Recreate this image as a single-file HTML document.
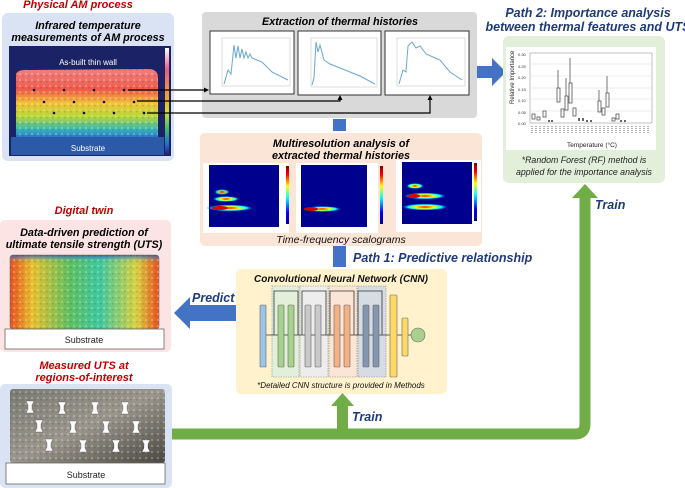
<!DOCTYPE html>
<html><head><meta charset="utf-8"><style>
body{margin:0;background:#fff}
svg{display:block}
text{font-family:"Liberation Sans",Arial,sans-serif}
.t{font-weight:bold;font-style:italic;font-size:10.8px;fill:#000}
.r{font-weight:bold;font-style:italic;font-size:11px;fill:#c00000}
.b{font-weight:bold;font-style:italic;font-size:12.5px;fill:#1f3a7a}
.c{font-style:italic;font-size:8.8px;fill:#222}
</style></head><body>
<svg width="685" height="488" viewBox="0 0 685 488" xmlns="http://www.w3.org/2000/svg">
<defs>
<linearGradient id="wall" x1="0" y1="0" x2="0" y2="1">
<stop offset="0" stop-color="#f08080"/><stop offset="0.3" stop-color="#f05a4a"/><stop offset="0.5" stop-color="#f2c23a"/><stop offset="0.7" stop-color="#b8d838"/><stop offset="0.88" stop-color="#3cb8b0"/><stop offset="1" stop-color="#2a7ad0"/></linearGradient>
<linearGradient id="cbar" x1="0" y1="0" x2="0" y2="1">
<stop offset="0" stop-color="#fff"/><stop offset="0.2" stop-color="#f05a80"/><stop offset="0.45" stop-color="#f8a020"/><stop offset="0.6" stop-color="#d8e020"/><stop offset="0.75" stop-color="#40c060"/><stop offset="0.9" stop-color="#2070d0"/><stop offset="1" stop-color="#202070"/></linearGradient>
<linearGradient id="jet" x1="0" y1="0" x2="0" y2="1">
<stop offset="0" stop-color="#800000"/><stop offset="0.15" stop-color="#ff0000"/><stop offset="0.35" stop-color="#ffff00"/><stop offset="0.55" stop-color="#00ffff"/><stop offset="0.8" stop-color="#0000ff"/><stop offset="1" stop-color="#00008f"/></linearGradient>
<linearGradient id="uts" x1="0" y1="0" x2="1" y2="0">
<stop offset="0" stop-color="#e85020"/><stop offset="0.15" stop-color="#e8c030"/><stop offset="0.4" stop-color="#60c060"/><stop offset="0.6" stop-color="#40c8a0"/><stop offset="0.85" stop-color="#d8d040"/><stop offset="1" stop-color="#e85020"/></linearGradient>
<linearGradient id="utsv" x1="0" y1="0" x2="0" y2="1">
<stop offset="0" stop-color="#3050c0" stop-opacity="0.8"/><stop offset="0.1" stop-color="#60c0a0" stop-opacity="0"/><stop offset="1" stop-color="#60c0a0" stop-opacity="0"/></linearGradient>
<linearGradient id="photo" x1="0" y1="0" x2="1" y2="1">
<stop offset="0" stop-color="#7a7a72"/><stop offset="0.5" stop-color="#9a968c"/><stop offset="1" stop-color="#4a4842"/></linearGradient>
<radialGradient id="hot" cx="0.5" cy="0.5" r="0.5">
<stop offset="0" stop-color="#ff0000"/><stop offset="0.4" stop-color="#ffff00"/><stop offset="0.7" stop-color="#00ffff"/><stop offset="1" stop-color="#0000b0" stop-opacity="0"/></radialGradient>
<pattern id="noise" width="6" height="6" patternUnits="userSpaceOnUse"><rect x="1" y="1" width="2" height="2" fill="#fff" opacity="0.25"/><rect x="4" y="3" width="1.5" height="1.5" fill="#000" opacity="0.15"/></pattern>
</defs>

<!-- Physical AM -->
<text class="r" x="78" y="8" text-anchor="middle">Physical AM process</text>
<rect x="2" y="13" width="172" height="148" rx="6" fill="#dae3f3"/>
<text class="t" x="88" y="29" text-anchor="middle">Infrared temperature</text>
<text class="t" x="88" y="41" text-anchor="middle">measurements of AM process</text>
<rect x="9" y="46" width="162" height="110" fill="#1c2266"/>
<path d="M16 74 Q18 69 30 70 L150 69 Q158 70 158 78 L158 137 L16 137 Z" fill="url(#wall)"/>
<path d="M16 74 Q18 69 30 70 L150 69 Q158 70 158 78 L158 137 L16 137 Z" fill="url(#noise)"/>
<rect x="11" y="137" width="153" height="18" fill="#2c5aa8"/>
<rect x="165" y="48" width="4" height="107" fill="url(#cbar)"/>
<text x="88" y="65" text-anchor="middle" font-size="8" fill="#fff">As-built thin wall</text>
<text x="88" y="151" text-anchor="middle" font-size="8" fill="#fff">Substrate</text>
<g fill="#111"><circle cx="34" cy="90" r="1.3"/><circle cx="64" cy="90" r="1.3"/><circle cx="94" cy="90" r="1.3"/><circle cx="124" cy="90" r="1.3"/>
<circle cx="44" cy="102" r="1.3"/><circle cx="74" cy="102" r="1.3"/><circle cx="104" cy="102" r="1.3"/><circle cx="134" cy="102" r="1.3"/>
<circle cx="54" cy="113" r="1.3"/><circle cx="84" cy="113" r="1.3"/><circle cx="114" cy="113" r="1.3"/><circle cx="144" cy="113" r="1.3"/></g>

<!-- Extraction -->
<rect x="202" y="12" width="275" height="106" rx="4" fill="#d9d9d9"/>
<text class="t" x="340" y="25" text-anchor="middle">Extraction of thermal histories</text>
<g stroke="#333" stroke-width="1" fill="#fff">
<rect x="210" y="31" width="84" height="63"/><rect x="298" y="31" width="83" height="64"/><rect x="385" y="31" width="84" height="64"/></g>
<g fill="none" stroke="#6aa6d0" stroke-width="1">
<rect x="222" y="38" width="68" height="48" stroke="#bbb" stroke-width="0.5"/>
<path d="M224 84 L228 70 L231 74 L234 45 L236 58 L238 46 L240 58 L242 49 L244 58 L246 52 L248 58 L250 54 L252 58 L262 62 L272 72 L288 80"/>
<rect x="311" y="38" width="66" height="49" stroke="#bbb" stroke-width="0.5"/>
<path d="M312 85 L314 78 L316 42 L318 52 L320 45 L324 60 L330 64 L345 70 L360 76 L375 84"/>
<rect x="397" y="38" width="68" height="48" stroke="#bbb" stroke-width="0.5"/>
<path d="M399 84 L403 70 L406 72 L408 46 L412 42 L416 48 L420 46 L426 54 L440 60 L450 72 L462 80"/></g>
<g stroke="#000" stroke-width="1.2" fill="none">
<path d="M128 90 H207"/><path d="M137 101 H340 V97"/><path d="M147 113 H430 V97"/></g>
<g fill="#000"><path d="M209 90 l-5 -2.5 v5z"/><path d="M340 95 l-2.5 5 h5z"/><path d="M430 95 l-2.5 5 h5z"/></g>

<path d="M477 66 H492 V58 L506 72 L492 86 V78 H477 Z" fill="#4472c4"/>
<text class="b" x="588" y="17" text-anchor="middle">Path 2: Importance analysis</text>
<text class="b" x="588" y="31" text-anchor="middle">between thermal features and UTS</text>
<rect x="503" y="36" width="162" height="147" rx="6" fill="#e2efda"/>
<rect x="506" y="47" width="150" height="103" fill="#fff"/>
<rect x="530" y="53" width="122" height="70" fill="#fff" stroke="#999" stroke-width="0.6"/>
<g stroke="#ddd" stroke-width="0.5"><path d="M530 64H652M530 76H652M530 88H652M530 99H652M530 111H652"/></g>
<g font-size="4" fill="#333"><text x="518" y="56">0.30</text><text x="518" y="68">0.25</text><text x="518" y="79">0.20</text><text x="518" y="91">0.15</text><text x="518" y="102">0.10</text><text x="518" y="114">0.05</text><text x="518" y="125">0.00</text></g>
<text x="514" y="104" font-size="6" fill="#222" transform="rotate(-90 514 104)">Relative Importance</text>
<text x="592" y="147" font-size="6.5" fill="#222" text-anchor="middle">Temperature (°C)</text>
<g stroke="#555" stroke-width="0.8" fill="none">
<rect x="532" y="114" width="3" height="5"/><rect x="537" y="117" width="3" height="3"/><rect x="543" y="111" width="3" height="6"/><rect x="557" y="88" width="3" height="14"/><rect x="561" y="109" width="3" height="8"/><rect x="565" y="96" width="3" height="14"/><rect x="569" y="83" width="3" height="20"/><rect x="573" y="108" width="3" height="8"/><rect x="598" y="101" width="3" height="11"/><rect x="602" y="108" width="3" height="7"/><rect x="606" y="93" width="3" height="14"/><rect x="612" y="118" width="3" height="3"/><rect x="616" y="114" width="3" height="5"/>
<path d="M558 70V88M570 58V83M566 78V96M599 90V101M607 76V93"/></g>
<g fill="#666"><rect x="548" y="120" width="2" height="2"/><rect x="551" y="120" width="2" height="2"/><rect x="578" y="118" width="2" height="3"/><rect x="582" y="118" width="2" height="3"/><rect x="586" y="120" width="2" height="2"/><rect x="590" y="120" width="2" height="2"/><rect x="620" y="120" width="2" height="2"/><rect x="624" y="120" width="2" height="2"/></g>
<path d="M532 126V134M536 126V134M540 126V134M544 126V134M548 126V134M552 126V134M556 126V134M560 126V134M564 126V134M568 126V134M572 126V134M576 126V134M580 126V134M584 126V134M588 126V134M592 126V134M596 126V134M600 126V134M604 126V134M608 126V134M612 126V134M616 126V134M620 126V134M624 126V134M628 126V134M632 126V134M636 126V134M640 126V134M644 126V134M648 126V134" stroke="#999" stroke-width="1.5" stroke-dasharray="1 1"/>
<text class="c" x="584" y="163" text-anchor="middle">*Random Forest (RF) method is</text>
<text class="c" x="584" y="175" text-anchor="middle">applied for the importance analysis</text>

<rect x="333" y="119" width="13" height="12" fill="#4472c4"/>
<rect x="333" y="246" width="13" height="21" fill="#4472c4"/>

<rect x="200" y="133" width="282" height="113" rx="5" fill="#fbe5d6"/>
<text class="t" x="341" y="147" text-anchor="middle">Multiresolution analysis of</text>
<text class="t" x="341" y="159" text-anchor="middle">extracted thermal histories</text>
<g fill="#fff"><rect x="203" y="163" width="86" height="70"/><rect x="296" y="163" width="82" height="70"/><rect x="396" y="160" width="85" height="72"/></g>
<g fill="#00008f"><rect x="209" y="165" width="70" height="62"/><rect x="301" y="165" width="66" height="62"/><rect x="402" y="162" width="70" height="62"/></g>
<g fill="url(#jet)"><rect x="286" y="166" width="3" height="58"/><rect x="380" y="166" width="3" height="58"/><rect x="474" y="163" width="3" height="58"/></g>
<g>
<ellipse cx="230" cy="208" rx="24" ry="3.5" fill="url(#hot)"/><ellipse cx="220" cy="208" rx="8" ry="2" fill="#e00000"/>
<ellipse cx="226" cy="199" rx="14" ry="3" fill="url(#hot)"/><ellipse cx="222" cy="192" rx="8" ry="3" fill="url(#hot)" opacity="0.8"/>
<ellipse cx="322" cy="209" rx="20" ry="3" fill="url(#hot)"/><ellipse cx="311" cy="209" rx="7" ry="2" fill="#d00000"/>
<ellipse cx="425" cy="207" rx="24" ry="3.5" fill="url(#hot)"/><ellipse cx="425" cy="196" rx="22" ry="3.5" fill="url(#hot)"/><ellipse cx="414" cy="196" rx="6" ry="2" fill="#e00000"/><ellipse cx="415" cy="186" rx="9" ry="3" fill="url(#hot)"/></g>
<text x="341" y="243" text-anchor="middle" font-style="italic" font-size="10.5" fill="#111">Time-frequency scalograms</text>

<text class="b" x="353" y="262">Path 1: Predictive relationship</text>

<rect x="236" y="269" width="211" height="125" rx="5" fill="#fff2cc"/>
<text x="341" y="282" text-anchor="middle" font-weight="bold" font-style="italic" font-size="10" fill="#111">Convolutional Neural Network (CNN)</text>
<g stroke="#888" stroke-width="0.6" stroke-dasharray="1.5 1">
<rect x="272" y="286" width="27" height="91" fill="#e2efda"/><rect x="300" y="286" width="28" height="91" fill="#ededed"/><rect x="329" y="286" width="28" height="91" fill="#fbe5d6"/><rect x="358" y="286" width="28" height="91" fill="#d6dce4"/></g>
<g stroke="#333" stroke-width="0.8" fill="none"><path d="M274 335V291H298V335M302 335V291H326V335M330 335V291H354V335M358 335V291H382V335"/><path d="M266 335H420"/></g>
<g stroke="#666" stroke-width="0.6">
<rect x="260" y="305" width="6" height="62" rx="1" fill="#9dc3e6"/>
<rect x="278" y="305" width="6" height="62" rx="1" fill="#a9d18e"/><rect x="288" y="305" width="6" height="62" rx="1" fill="#a9d18e"/>
<rect x="305" y="305" width="6" height="62" rx="1" fill="#c9c9c9"/><rect x="315" y="305" width="6" height="62" rx="1" fill="#c9c9c9"/>
<rect x="334" y="305" width="6" height="62" rx="1" fill="#f4b183"/><rect x="344" y="305" width="6" height="62" rx="1" fill="#f4b183"/>
<rect x="363" y="305" width="6" height="62" rx="1" fill="#8497b0"/><rect x="373" y="305" width="6" height="62" rx="1" fill="#8497b0"/>
<rect x="390" y="295" width="7" height="82" rx="1" fill="#ffd966"/><rect x="402" y="318" width="6" height="38" rx="1" fill="#ffd966"/>
<circle cx="418" cy="335" r="7" fill="#a9d18e"/></g>
<text x="341" y="388" text-anchor="middle" font-style="italic" font-size="8" fill="#111">*Detailed CNN structure is provided in Methods</text>

<path d="M236 305 H190 V297 L174 313 L190 329 V321 H236 Z" fill="#4472c4"/>
<text class="b" x="192" y="302" font-size="10.5">Predict</text>

<text class="r" x="84" y="214" text-anchor="middle">Digital twin</text>
<rect x="0" y="220" width="171" height="132" rx="5" fill="#fce4e4"/>
<text class="t" x="84" y="236" text-anchor="middle">Data-driven prediction of</text>
<text class="t" x="84" y="248" text-anchor="middle">ultimate tensile strength (UTS)</text>
<rect x="10" y="255" width="149" height="74" rx="3" fill="url(#uts)" stroke="#777" stroke-width="0.6"/>
<rect x="10" y="255" width="149" height="74" rx="3" fill="url(#utsv)"/>
<rect x="10" y="255" width="149" height="74" rx="3" fill="url(#noise)"/>
<rect x="5" y="329" width="159" height="20" fill="#fff" stroke="#666" stroke-width="0.8"/>
<text x="84" y="343" text-anchor="middle" font-size="9" fill="#222">Substrate</text>

<text class="r" x="84" y="369" text-anchor="middle">Measured UTS at</text>
<text class="r" x="84" y="381" text-anchor="middle">regions-of-interest</text>
<rect x="0" y="384" width="172" height="104" rx="5" fill="#dae3f3"/>
<rect x="10" y="389" width="155" height="74" rx="3" fill="url(#photo)"/>
<rect x="10" y="389" width="155" height="74" rx="3" fill="url(#noise)"/>
<g fill="#fff" stroke="#333" stroke-width="0.3">
<path d="M26 401h8l-2 4v4l2 4h-8l2-4v-4z"/><path d="M58 402h8l-2 4v4l2 4h-8l2-4v-4z"/><path d="M91 402h8l-2 4v4l2 4h-8l2-4v-4z"/><path d="M121 402h8l-2 4v4l2 4h-8l2-4v-4z"/>
<path d="M35 420h8l-2 4v4l2 4h-8l2-4v-4z"/><path d="M69 421h8l-2 4v4l2 4h-8l2-4v-4z"/><path d="M102 421h8l-2 4v4l2 4h-8l2-4v-4z"/><path d="M132 421h8l-2 4v4l2 4h-8l2-4v-4z"/>
<path d="M45 439h8l-2 4v4l2 4h-8l2-4v-4z"/><path d="M79 440h8l-2 4v4l2 4h-8l2-4v-4z"/><path d="M112 440h8l-2 4v4l2 4h-8l2-4v-4z"/><path d="M142 440h8l-2 4v4l2 4h-8l2-4v-4z"/></g>
<rect x="6" y="463" width="159" height="21" fill="#fff" stroke="#666" stroke-width="0.8"/>
<text x="86" y="478" text-anchor="middle" font-size="9" fill="#222">Substrate</text>

<path d="M172 434 H575 Q585 434 585 424 V198" fill="none" stroke="#70ad47" stroke-width="11"/>
<path d="M572 198 L585 184 L598 198 Z" fill="#70ad47"/>
<rect x="337" y="405" width="11" height="30" fill="#70ad47"/>
<path d="M331 406 L342.5 393 L354 406 Z" fill="#70ad47"/>
<text class="b" x="352" y="421" font-size="10.5">Train</text>
<text class="b" x="595" y="209" font-size="10.5">Train</text>
</svg>
</body></html>
